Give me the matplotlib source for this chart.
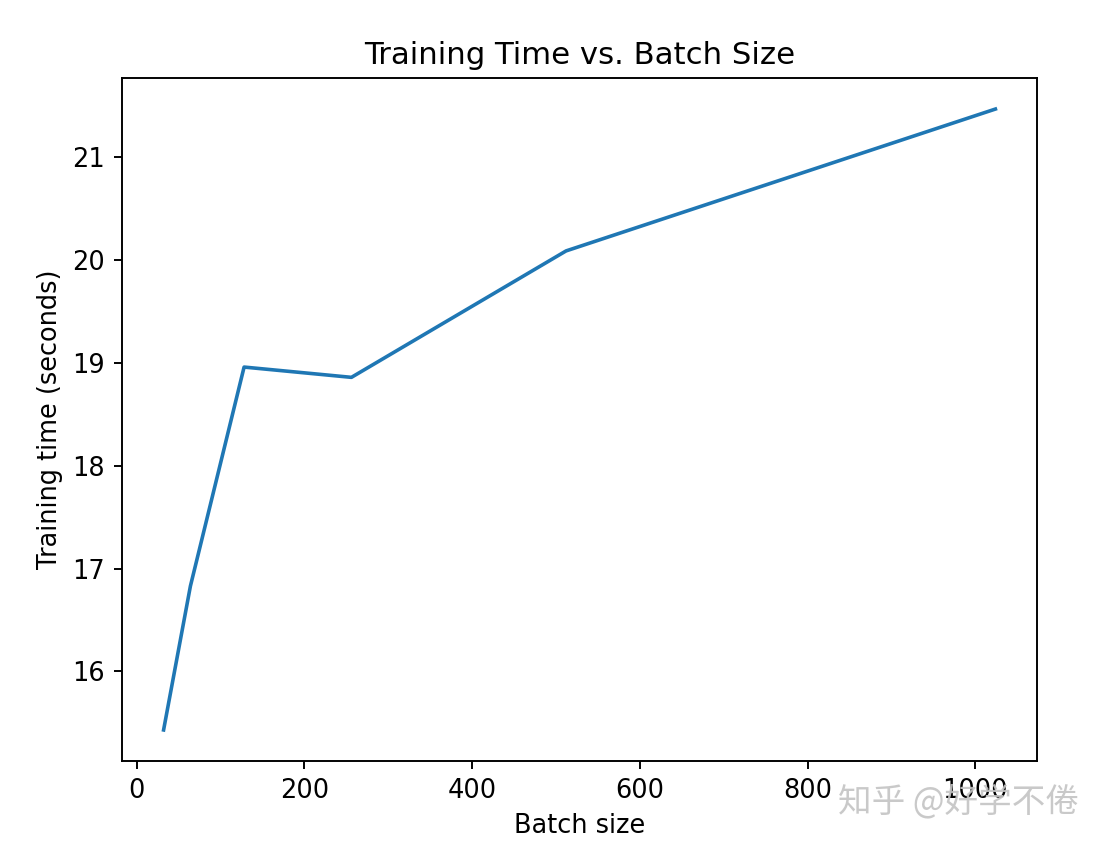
import matplotlib
matplotlib.use("Agg")
import matplotlib.pyplot as plt

batch_sizes = [32, 64, 128, 256, 512, 1024]
train_times = [15.43, 16.83, 18.96, 18.86, 20.09, 21.47]

plt.rcParams["font.size"] = 10.7
dpi = 172.8
fig = plt.figure(figsize=(1106 / dpi, 850 / dpi), dpi=dpi)
ax = fig.add_axes([122 / 1106, 89 / 850, 915 / 1106, 683 / 850])
ax.plot(batch_sizes, train_times, color="#1f77b4")
ax.set_xlabel("Batch size")
ax.set_ylabel("Training time (seconds)")
ax.set_title("Training Time vs. Batch Size")

fig.text(0.867, 0.056, "知乎 @好学不倦", ha="center", va="center", fontsize=14,
         color="#c4c4c4", alpha=0.9, family=["Noto Sans CJK SC", "DejaVu Sans"], zorder=10)

fig.savefig("out.png", dpi=dpi)
